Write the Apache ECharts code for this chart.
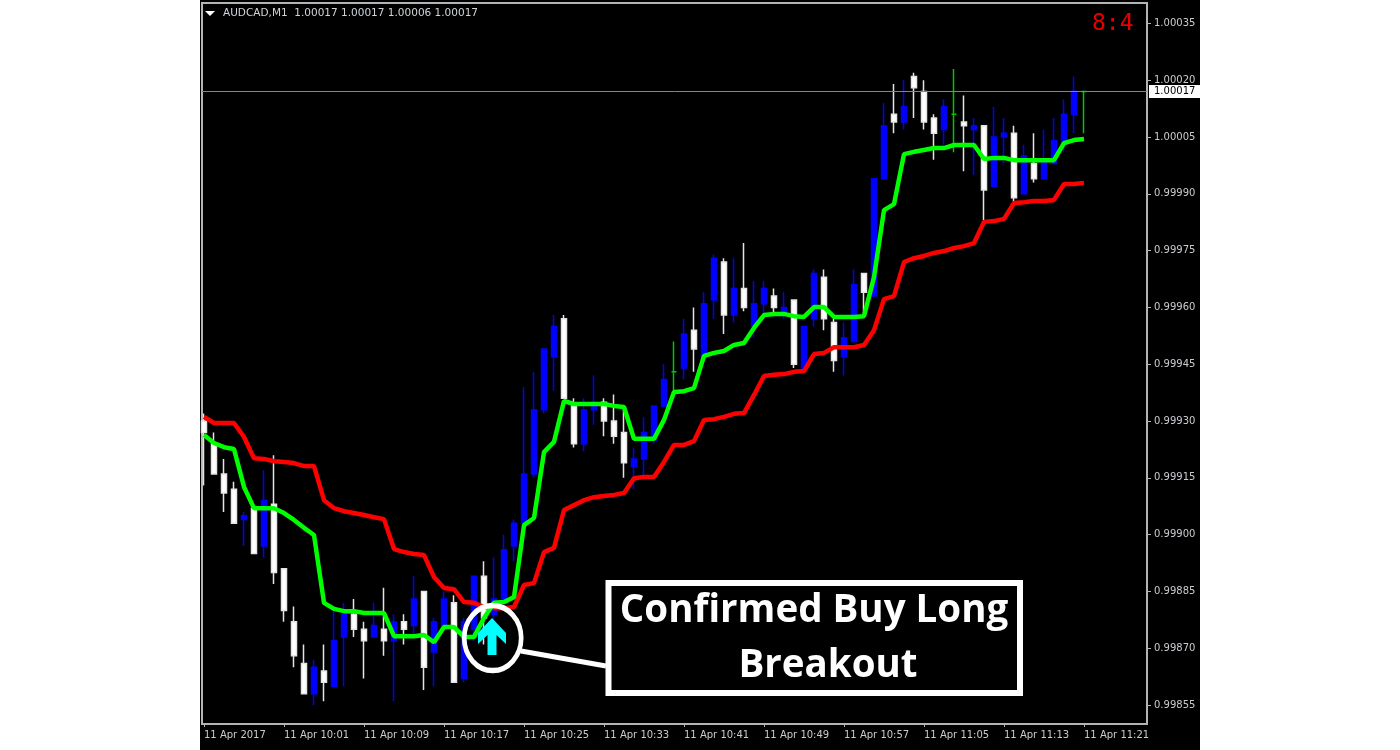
<!DOCTYPE html>
<html><head><meta charset="utf-8">
<style>html,body{margin:0;padding:0;background:#fff}#c{position:absolute;left:200px;top:0;width:1000px;height:750px}</style>
<script src="https://cdn.jsdelivr.net/npm/echarts@6/dist/echarts.min.js"></script>
</head><body><div id="c"></div>
<script>
const symbolHeader = 'AUDCAD,M1  1.00017 1.00017 1.00006 1.00017';
const timerText = '8:4';
const calloutLines = ['Confirmed Buy Long', 'Breakout'];
const timeLabels = ['11 Apr 2017','11 Apr 10:01','11 Apr 10:09','11 Apr 10:17','11 Apr 10:25','11 Apr 10:33','11 Apr 10:41','11 Apr 10:49','11 Apr 10:57','11 Apr 11:05','11 Apr 11:13','11 Apr 11:21'];
const priceTicks = [0.99855,0.99870,0.99885,0.99900,0.99915,0.99930,0.99945,0.99960,0.99975,0.99990,1.00005,1.00020,1.00035];
const currentPrice = 1.00017;
const opens = [0.99930,0.99924,0.99916,0.99912,0.99904,0.99907,0.99897,0.99908,0.99891,0.99877,0.99866,0.99858,0.99864,0.99860,0.99873,0.99879,0.99875,0.99873,0.99875,0.99872,0.99877,0.99876,0.99885,0.99869,0.99876,0.99882,0.99862,0.99875,0.99889,0.99879,0.99883,0.99897,0.99903,0.99916,0.99933,0.99947,0.99957,0.99934,0.99924,0.99933,0.99935,0.99930,0.99927,0.99918,0.99920,0.99925,0.99934,0.99943,0.99944,0.99954,0.99947,0.99962,0.99972,0.99958,0.99965,0.99955,0.99961,0.99963,0.99958,0.99962,0.99944,0.99957,0.99968,0.99956,0.99947,0.99951,0.99969,0.99963,0.99994,1.00011,1.00009,1.00021,1.00017,1.00010,1.00007,1.00011,1.00009,1.00007,1.00008,0.99992,1.00005,1.00006,0.99990,0.99998,0.99994,0.99998,1.00003,1.00011,1.00017];
const closes = [0.99927,0.99916,0.99911,0.99903,0.99905,0.99895,0.99909,0.99890,0.99880,0.99868,0.99858,0.99865,0.99861,0.99872,0.99879,0.99875,0.99872,0.99876,0.99872,0.99877,0.99875,0.99883,0.99865,0.99877,0.99883,0.99861,0.99877,0.99889,0.99878,0.99883,0.99896,0.99903,0.99916,0.99933,0.99949,0.99955,0.99936,0.99924,0.99933,0.99935,0.99930,0.99926,0.99919,0.99920,0.99927,0.99934,0.99941,0.99943,0.99953,0.99949,0.99961,0.99973,0.99958,0.99965,0.99960,0.99961,0.99965,0.99960,0.99960,0.99945,0.99955,0.99969,0.99957,0.99946,0.99952,0.99966,0.99964,0.99994,1.00008,1.00009,1.00013,1.00018,1.00009,1.00006,1.00013,1.00011,1.00008,1.00008,0.99991,1.00005,1.00006,0.99989,1.00000,0.99994,0.99999,1.00004,1.00011,1.00017,1.00017];
const lows = [0.99913,0.99916,0.99906,0.99903,0.99897,0.99895,0.99894,0.99887,0.99877,0.99865,0.99858,0.99855,0.99856,0.99860,0.99860,0.99873,0.99862,0.99873,0.99868,0.99856,0.99871,0.99873,0.99859,0.99860,0.99876,0.99861,0.99861,0.99872,0.99871,0.99876,0.99882,0.99893,0.99901,0.99915,0.99932,0.99938,0.99936,0.99923,0.99922,0.99929,0.99926,0.99924,0.99915,0.99912,0.99915,0.99924,0.99934,0.99937,0.99941,0.99943,0.99946,0.99957,0.99953,0.99956,0.99959,0.99952,0.99958,0.99958,0.99957,0.99944,0.99943,0.99955,0.99954,0.99943,0.99942,0.99951,0.99958,0.99963,0.99994,1.00006,1.00007,1.00010,1.00007,0.99999,1.00003,1.00001,0.99996,0.99995,0.99983,0.99992,0.99998,0.99988,0.99990,0.99993,0.99994,0.99998,1.00001,1.00006,1.00006];
const highs = [0.99932,0.99927,0.99920,0.99914,0.99906,0.99907,0.99917,0.99921,0.99891,0.99881,0.99871,0.99867,0.99871,0.99880,0.99882,0.99883,0.99877,0.99882,0.99886,0.99879,0.99879,0.99889,0.99885,0.99878,0.99885,0.99884,0.99878,0.99889,0.99893,0.99894,0.99900,0.99904,0.99939,0.99943,0.99949,0.99958,0.99958,0.99936,0.99936,0.99942,0.99936,0.99937,0.99934,0.99923,0.99931,0.99934,0.99945,0.99951,0.99957,0.99960,0.99964,0.99974,0.99973,0.99973,0.99977,0.99967,0.99967,0.99965,0.99964,0.99962,0.99955,0.99970,0.99970,0.99957,0.99956,0.99970,0.99969,0.99994,1.00014,1.00019,1.00020,1.00022,1.00020,1.00011,1.00015,1.00023,1.00016,1.00010,1.00008,1.00013,1.00010,1.00008,1.00003,1.00006,1.00007,1.00010,1.00015,1.00021,1.00017];
const redBand = [0.999311,0.999295,0.999295,0.999295,0.999258,0.999202,0.999200,0.999194,0.999192,0.999189,0.999181,0.999181,0.999091,0.999070,0.999062,0.999057,0.999052,0.999046,0.999041,0.998962,0.998954,0.998949,0.998946,0.998888,0.998859,0.998856,0.998822,0.998820,0.998809,0.998806,0.998806,0.998809,0.998867,0.998872,0.998954,0.998965,0.999065,0.999078,0.999091,0.999099,0.999102,0.999105,0.999110,0.999149,0.999152,0.999152,0.999192,0.999237,0.999237,0.999247,0.999303,0.999305,0.999311,0.999319,0.999321,0.999369,0.999419,0.999422,0.999424,0.999430,0.999432,0.999477,0.999480,0.999495,0.999495,0.999495,0.999501,0.999540,0.999622,0.999630,0.999720,0.999730,0.999736,0.999744,0.999749,0.999757,0.999762,0.999770,0.999826,0.999828,0.999834,0.999876,0.999878,0.999881,0.999881,0.999884,0.999926,0.999926,0.999929];
const greenBand = [0.999263,0.999242,0.999231,0.999226,0.999126,0.999070,0.999070,0.999070,0.999057,0.999039,0.999018,0.998999,0.998820,0.998804,0.998798,0.998798,0.998793,0.998793,0.998793,0.998732,0.998732,0.998732,0.998735,0.998716,0.998756,0.998756,0.998730,0.998730,0.998780,0.998820,0.998822,0.998835,0.999025,0.999044,0.999218,0.999245,0.999353,0.999345,0.999345,0.999345,0.999345,0.999340,0.999337,0.999253,0.999253,0.999253,0.999303,0.999377,0.999379,0.999387,0.999472,0.999480,0.999485,0.999501,0.999506,0.999546,0.999580,0.999583,0.999583,0.999577,0.999575,0.999601,0.999601,0.999575,0.999575,0.999575,0.999577,0.999680,0.999857,0.999873,1.000005,1.000011,1.000016,1.000021,1.000021,1.000029,1.000029,1.000029,0.999992,0.999995,0.999995,0.999989,0.999989,0.999989,0.999989,0.999989,1.000034,1.000042,1.000045];
const arrowPoint = [[28.8, 0.998731]];
const ringPoint = [[28.87, 0.998727]];

const ohlc = opens.map((o,i)=>[i,o,closes[i],lows[i],highs[i]]);
const red = redBand.map((v,i)=>[i,v]);
const green = greenBand.map((v,i)=>[i,v]);
const tickIdx = timeLabels.map((_,i)=>i*8);
const axisFont = 'DejaVu Sans';
const axisColor = '#b4b4b4';
const labelColor = '#c8ccd0';

const chart = echarts.init(document.getElementById('c'), null, {renderer:'canvas'});
chart.setOption({
  animation:false,
  backgroundColor:'#000',
  grid:{left:2,top:3,width:945,height:721,show:true,borderColor:axisColor,borderWidth:2,backgroundColor:'transparent'},
  xAxis:{type:'value',min:-0.2,max:94.3,
    splitLine:{show:false},
    axisLine:{show:true,onZero:false,lineStyle:{color:axisColor,width:2}},
    axisTick:{show:true,length:3,lineStyle:{color:axisColor},customValues:tickIdx},
    axisLabel:{color:labelColor,fontFamily:axisFont,fontSize:10,align:'left',margin:6,customValues:tickIdx,
      formatter:v=>timeLabels[Math.round(v/8)]||''}},
  yAxis:{type:'value',position:'right',min:0.9985,max:1.000404,
    splitLine:{show:false},
    axisLine:{show:true,onZero:false,lineStyle:{color:axisColor,width:2}},
    axisTick:{show:true,length:4,lineStyle:{color:axisColor},customValues:priceTicks},
    axisLabel:{color:labelColor,fontFamily:axisFont,fontSize:10,margin:7,customValues:priceTicks,formatter:v=>v.toFixed(5)}},
  series:[
    {type:'candlestick',data:ohlc,barWidth:5,z:2,clip:true,
      itemStyle:{color:'#0000ff',color0:'#ffffff',borderColor:'#0000ff',borderColor0:'#e4e4e4',borderColorDoji:'#00c800',borderWidth:1.5},
      markLine:{silent:true,symbol:'none',animation:false,z:3,precision:5,
        lineStyle:{color:'#7f8790',width:1,type:'solid'},
        label:{position:'end',distance:2,color:'#000',backgroundColor:'#fff',fontFamily:axisFont,fontSize:10,padding:[2,6,1,5],formatter:p=>p.value.toFixed(5)},
        data:[{yAxis:currentPrice}]}},
    {type:'line',data:red,showSymbol:false,z:4,lineStyle:{color:'#ff0000',width:4.5},itemStyle:{color:'#ff0000'}},
    {type:'line',data:green,showSymbol:false,z:5,lineStyle:{color:'#00ff00',width:4.5},itemStyle:{color:'#00ff00'}},
    {type:'scatter',data:ringPoint,symbol:'circle',symbolSize:[57,65],z:6,silent:true,
      itemStyle:{color:'rgba(0,0,0,0)',borderColor:'#fff',borderWidth:5,opacity:1}},
    {type:'scatter',data:arrowPoint,z:7,silent:true,
      symbol:'path://M14 0 L28 15 L28 26 L18.5 17 L18.5 37 L9.5 37 L9.5 17 L0 26 L0 15 Z',symbolSize:[28,37],symbolKeepAspect:false,
      itemStyle:{color:'#00ffff',opacity:1}}
  ],
  graphic:[
    {type:'polygon',shape:{points:[[5,11],[15,11],[10,16]]},style:{fill:'#fff'},z:10},
    {type:'text',x:23,y:8,style:{text:symbolHeader,fill:'#d0d4d8',font:'10.5px "DejaVu Sans"'},z:10},
    {type:'text',x:892,y:13,style:{text:timerText,fill:'#e80000',font:'23px "DejaVu Sans Mono"'},z:10},
    {type:'line',shape:{x1:321,y1:651,x2:406,y2:666},style:{stroke:'#fff',lineWidth:5},z:10},
    {type:'rect',shape:{x:408.5,y:583,width:411.5,height:110},style:{fill:'#000',stroke:'#fff',lineWidth:6},z:10},
    {type:'text',x:614,y:611,style:{text:calloutLines[0],fill:'#fff',font:'bold 38.5px "Open Sans"',align:'center',verticalAlign:'middle'},z:11},
    {type:'text',x:628,y:666,style:{text:calloutLines[1],fill:'#fff',font:'bold 38.5px "Open Sans"',align:'center',verticalAlign:'middle'},z:11}
  ]
});
</script>
</body></html>
